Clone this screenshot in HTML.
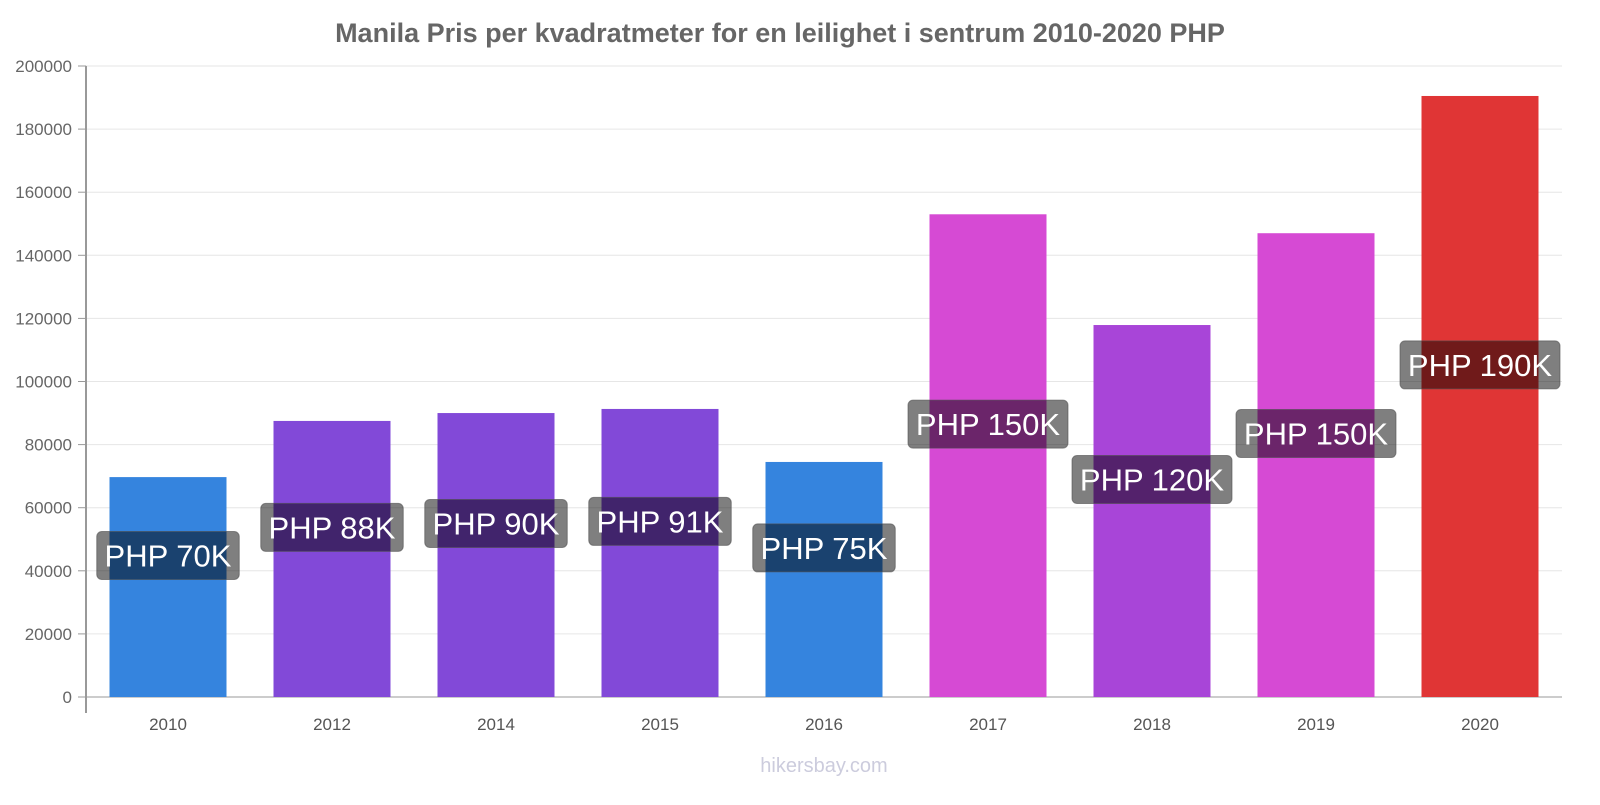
<!DOCTYPE html>
<html><head><meta charset="utf-8">
<style>
body{margin:0;background:#fff;width:1600px;height:800px;overflow:hidden;font-family:"Liberation Sans",sans-serif}
</style></head>
<body>
<svg width="1600" height="800" xmlns="http://www.w3.org/2000/svg">
<text x="780" y="42" text-anchor="middle" font-size="27" font-weight="bold" fill="#666">Manila Pris per kvadratmeter for en leilighet i sentrum 2010-2020 PHP</text>
<g id="grid"></g><g id="bars"></g><g id="labels"></g>
<text x="824" y="772" text-anchor="middle" font-size="20" fill="#ccd">hikersbay.com</text>
</svg>
<script>
const categories=["2010","2012","2014","2015","2016","2017","2018","2019","2020"];
const values=[69700,87500,90000,91300,74500,153000,117900,147000,190500];
const valueLabels=["PHP 70K","PHP 88K","PHP 90K","PHP 91K","PHP 75K","PHP 150K","PHP 120K","PHP 150K","PHP 190K"];
const barColors=["#3584de","#8249d8","#8249d8","#8249d8","#3584de","#d64ad4","#a845d8","#d64ad4","#e03535"];
const yTicks=[0,20000,40000,60000,80000,100000,120000,140000,160000,180000,200000];
const NS="http://www.w3.org/2000/svg";
const x0=86,x1=1562,y0=697,yTop=66;
const y=v=>y0-(v/200000)*(y0-yTop);
const step=(x1-x0)/categories.length;
const xc=i=>x0+step*(i+0.5);
function mk(t,a,p){const e=document.createElementNS(NS,t);for(const k in a)e.setAttribute(k,a[k]);p.appendChild(e);return e;}
const g=document.getElementById('grid'),b=document.getElementById('bars'),l=document.getElementById('labels');
yTicks.forEach(t=>{
 const ln=mk('line',{x1:x0,x2:x1,y1:y(t),y2:y(t),stroke:t===0?'#999':'#e6e6e6','stroke-width':1},g);
 
 
 mk('line',{x1:x0-8,x2:x0,y1:y(t),y2:y(t),stroke:'#999'},g);
 const tx=mk('text',{x:x0-14,y:y(t)+6,'text-anchor':'end','font-size':17,fill:'#666'},g);
 tx.textContent=t;
 
 
});
const ax=mk('line',{x1:x0,x2:x0,y1:yTop,y2:713,stroke:'#999','stroke-width':2},g);


categories.forEach((c,i)=>{
 const bw=117;
 const r=mk('rect',{x:xc(i)-bw/2,y:y(values[i]),width:bw,height:y0-y(values[i]),fill:barColors[i]},b);
 
 
 const tx=mk('text',{x:xc(i),y:730,'text-anchor':'middle','font-size':17,fill:'#555'},g);
 tx.textContent=c;
 
 
 const cy=y(values[i]/2+10000);
 const w=valueLabels[i].length*17.5+20;
 const bx=mk('rect',{x:xc(i)-w/2,y:cy-24,width:w,height:48,rx:5,fill:'rgba(0,0,0,0.5)',stroke:'rgba(80,80,80,0.6)'},l);
 
 
 const lt=mk('text',{x:xc(i),y:cy+11,'text-anchor':'middle','font-size':31,fill:'#fff'},l);
 lt.textContent=valueLabels[i];
 
 
});
</script>
</body></html>
